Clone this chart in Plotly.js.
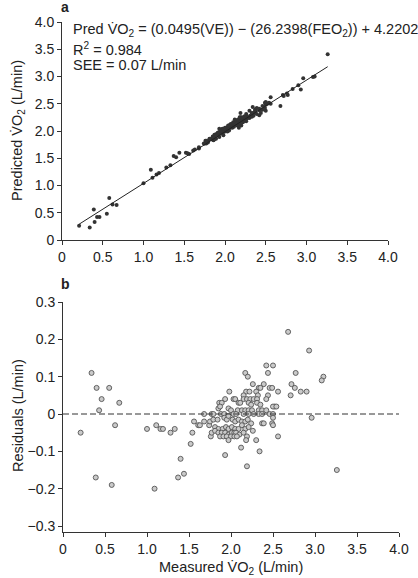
<!DOCTYPE html>
<html>
<head>
<meta charset="utf-8">
<script src="https://cdn.plot.ly/plotly-3.0.1.min.js"></script>
<style>html,body{margin:0;padding:0;background:#fff;}#chart{width:418px;height:578px;}</style>
</head>
<body>
<div id="chart"></div>
<script>
// Measured VO2 (L/min)
var measured = [0.21,0.34,0.39,0.40,0.43,0.46,0.55,0.58,0.62,0.67,
1.00,1.09,1.11,1.16,1.19,1.28,1.33,1.37,1.40,1.44,
1.52,1.54,1.56,1.61,1.63,1.68,1.68,1.74,1.76,2.68,
2.93,2.42,2.50,2.17,2.20,2.44,2.77,3.10,3.08,2.26,
2.39,2.72,2.76,2.33,2.35,2.46,2.49,2.83,2.90,2.71,
2.56,2.18,2.22,1.98,2.30,2.15,2.32,2.44,2.42,2.15,
2.19,2.23,2.27,2.31,2.03,2.05,1.93,1.86,1.89,2.09,
2.11,2.31,2.21,2.24,2.35,2.52,2.50,2.54,1.85,1.87,
1.97,2.00,2.08,2.13,2.17,2.21,2.25,2.33,2.37,2.42,
1.77,1.79,1.88,1.92,2.03,2.06,2.15,2.21,2.27,2.33,
2.37,2.46,2.50,2.96,2.50,1.75,1.79,1.84,1.92,1.95,
1.97,2.02,2.05,2.09,2.13,2.17,2.20,2.24,2.37,2.39,
2.49,2.50,1.81,1.85,1.90,1.94,1.97,2.01,2.05,2.09,
2.13,2.17,2.21,2.26,1.77,1.81,1.85,1.89,1.93,1.97,
2.01,2.04,2.06,2.10,2.15,1.87,1.91,1.95,2.00,2.04,
2.07,2.19,2.56,1.97,2.18,2.30,2.12,2.34,1.93,2.19,3.26];

// Residuals (L/min)
var residuals = [-0.05,0.11,-0.17,0.07,0.01,0.04,0.07,-0.19,-0.03,0.03,
-0.04,-0.20,-0.03,-0.04,-0.04,-0.05,-0.04,-0.17,-0.12,-0.16,
-0.08,-0.05,-0.02,-0.03,-0.03,-0.02,0.00,-0.03,-0.06,0.22,
0.17,0.13,0.13,0.11,0.10,0.11,0.11,0.10,0.09,0.08,
0.08,0.08,0.07,0.07,0.07,0.07,0.07,0.06,0.06,0.05,
0.06,0.06,0.06,0.06,0.06,0.05,0.05,0.05,0.04,0.04,
0.04,0.04,0.04,0.04,0.04,0.04,0.04,0.03,0.03,0.03,
0.03,0.03,0.03,0.025,0.025,0.02,0.02,0.02,0.015,0.02,
0.015,0.01,0.01,0.01,0.01,0.01,0.01,0.01,0.01,0.01,
0.00,0.00,0.00,0.00,0.00,0.00,0.00,0.00,0.00,0.00,
0.00,0.00,0.00,-0.01,-0.01,-0.02,-0.015,-0.015,-0.01,-0.015,
-0.005,-0.015,-0.02,-0.015,-0.02,-0.02,-0.015,-0.025,-0.025,-0.025,
-0.025,-0.03,-0.035,-0.04,-0.04,-0.035,-0.04,-0.035,-0.04,-0.04,
-0.03,-0.04,-0.035,-0.045,-0.05,-0.045,-0.05,-0.05,-0.05,-0.055,
-0.05,-0.05,-0.05,-0.055,-0.05,-0.06,-0.06,-0.06,-0.06,-0.06,
-0.06,-0.06,-0.06,-0.07,-0.07,-0.07,-0.09,-0.10,-0.11,-0.14,-0.15];

// Predicted VO2 (L/min)
var predicted = [0.26,0.23,0.56,0.33,0.42,0.42,0.48,0.77,0.65,0.64,
1.04,1.29,1.14,1.20,1.23,1.33,1.37,1.54,1.52,1.60,
1.60,1.59,1.58,1.64,1.66,1.70,1.68,1.77,1.82,2.46,
2.76,2.29,2.37,2.06,2.10,2.33,2.66,3.00,2.99,2.18,
2.31,2.64,2.69,2.26,2.28,2.39,2.42,2.77,2.84,2.66,
2.50,2.12,2.16,1.92,2.24,2.10,2.27,2.39,2.38,2.11,
2.15,2.19,2.23,2.27,1.99,2.01,1.89,1.83,1.86,2.06,
2.08,2.28,2.18,2.22,2.33,2.50,2.48,2.52,1.84,1.85,
1.96,1.99,2.07,2.12,2.16,2.20,2.24,2.32,2.36,2.41,
1.77,1.79,1.88,1.92,2.03,2.06,2.15,2.21,2.27,2.33,
2.37,2.46,2.50,2.97,2.51,1.77,1.81,1.86,1.93,1.97,
1.98,2.04,2.07,2.11,2.15,2.19,2.22,2.27,2.40,2.42,
2.52,2.53,1.85,1.89,1.94,1.98,2.01,2.05,2.09,2.13,
2.16,2.21,2.25,2.31,1.82,1.86,1.90,1.94,1.98,2.03,
2.06,2.09,2.11,2.16,2.20,1.93,1.97,2.01,2.06,2.10,
2.13,2.25,2.62,2.04,2.25,2.37,2.21,2.44,2.04,2.33,3.41];

// Regression line end points (panel a)
var fitX = [0.21, 3.26];
var fitY = [0.29, 3.18];

var xTickVals = [0,0.5,1,1.5,2,2.5,3,3.5,4];
var xTickText = ['0','0.5','1.0','1.5','2.0','2.5','3.0','3.5','4.0'];
var yTopVals = [0,0.5,1,1.5,2,2.5,3,3.5,4];
var yTopText = ['0','0.5','1.0','1.5','2.0','2.5','3.0','3.5','4.0'];
var yBotVals = [-0.3,-0.2,-0.1,0,0.1,0.2,0.3];
var yBotText = ['\u22120.3','\u22120.2','\u22120.1','0','0.1','0.2','0.3'];

var W = 418, H = 578;
function px(x){return x/W;}
function py(y){return 1 - y/H;}

var FONT = 'Liberation Sans, Arial, Helvetica, sans-serif';
var TXT = '#222';
var AX = '#333';

var traces = [
  {x: measured, y: predicted, type: 'scatter', mode: 'markers', xaxis: 'x', yaxis: 'y',
   marker: {size: 4, color: '#333'}, hoverinfo: 'skip'},
  {x: fitX, y: fitY, type: 'scatter', mode: 'lines', xaxis: 'x', yaxis: 'y',
   line: {color: '#222', width: 1}, hoverinfo: 'skip'},
  {x: measured, y: residuals, type: 'scatter', mode: 'markers', xaxis: 'x2', yaxis: 'y2',
   marker: {size: 5, color: '#cacaca', line: {color: '#555', width: 0.9}}, hoverinfo: 'skip'}
];

function axisBase(){
  return {showgrid: false, zeroline: false, showline: true, linecolor: AX, linewidth: 1,
    ticks: 'outside', ticklen: 4, tickcolor: AX, tickwidth: 1, automargin: false,
    tickfont: {family: FONT, size: 14, color: TXT}, fixedrange: true};
}

var xa = Object.assign(axisBase(), {domain: [px(62), px(388)], range: [0,4], anchor: 'y',
  tickmode: 'array', tickvals: xTickVals, ticktext: xTickText});
var ya = Object.assign(axisBase(), {domain: [py(240), py(22)], range: [0,4], anchor: 'x',
  tickmode: 'array', tickvals: yTopVals, ticktext: yTopText});
var xa2 = Object.assign(axisBase(), {domain: [px(63), px(399)], range: [0,4], anchor: 'y2',
  tickmode: 'array', tickvals: xTickVals, ticktext: xTickText});
var ya2 = Object.assign(axisBase(), {domain: [py(532), py(302)], range: [-0.316,0.3], anchor: 'x2',
  tickmode: 'array', tickvals: yBotVals, ticktext: yBotText});

var ann = function(text, x, y, opts){
  return Object.assign({text: text, x: px(x), y: py(y), xref: 'paper', yref: 'paper',
    showarrow: false, xanchor: 'left', yanchor: 'middle',
    font: {family: FONT, size: 14, color: TXT}}, opts || {});
};
var EQF = {family: FONT, size: 14.5, color: TXT};

var layout = {
  width: W, height: H,
  margin: {l: 0, r: 0, t: 0, b: 0},
  paper_bgcolor: '#fff', plot_bgcolor: '#fff',
  showlegend: false,
  xaxis: xa, yaxis: ya, xaxis2: xa2, yaxis2: ya2,
  shapes: [
    {type: 'line', xref: 'x2 domain', yref: 'y2', x0: 0, x1: 1, y0: 0, y1: 0,
     line: {color: '#333', width: 1, dash: '6px,3px'}}
  ],
  annotations: [
    ann('<b>a</b>', 59, 7),
    ann('<b>b</b>', 59, 284),
    ann('Pred V\u0307O<sub>2</sub> = (0.0495(VE)) \u2212 (26.2398(FEO<sub>2</sub>)) + 4.2202', 71, 30, {font: EQF}),
    ann('R<sup>2</sup> = 0.984', 71, 49, {font: EQF}),
    ann('SEE = 0.07 L/min', 71, 65, {font: EQF}),
    ann('Predicted V\u0307O<sub>2</sub> (L/min)', 18, 131, {xanchor: 'center', textangle: -90, font: EQF}),
    ann('Residuals (L/min)', 18, 416, {xanchor: 'center', textangle: -90, font: EQF}),
    ann('Measured V\u0307O<sub>2</sub> (L/min)', 231, 568, {xanchor: 'center', font: EQF})
  ]
};

Plotly.newPlot('chart', traces, layout, {displayModeBar: false, staticPlot: true});
</script>
</body>
</html>
